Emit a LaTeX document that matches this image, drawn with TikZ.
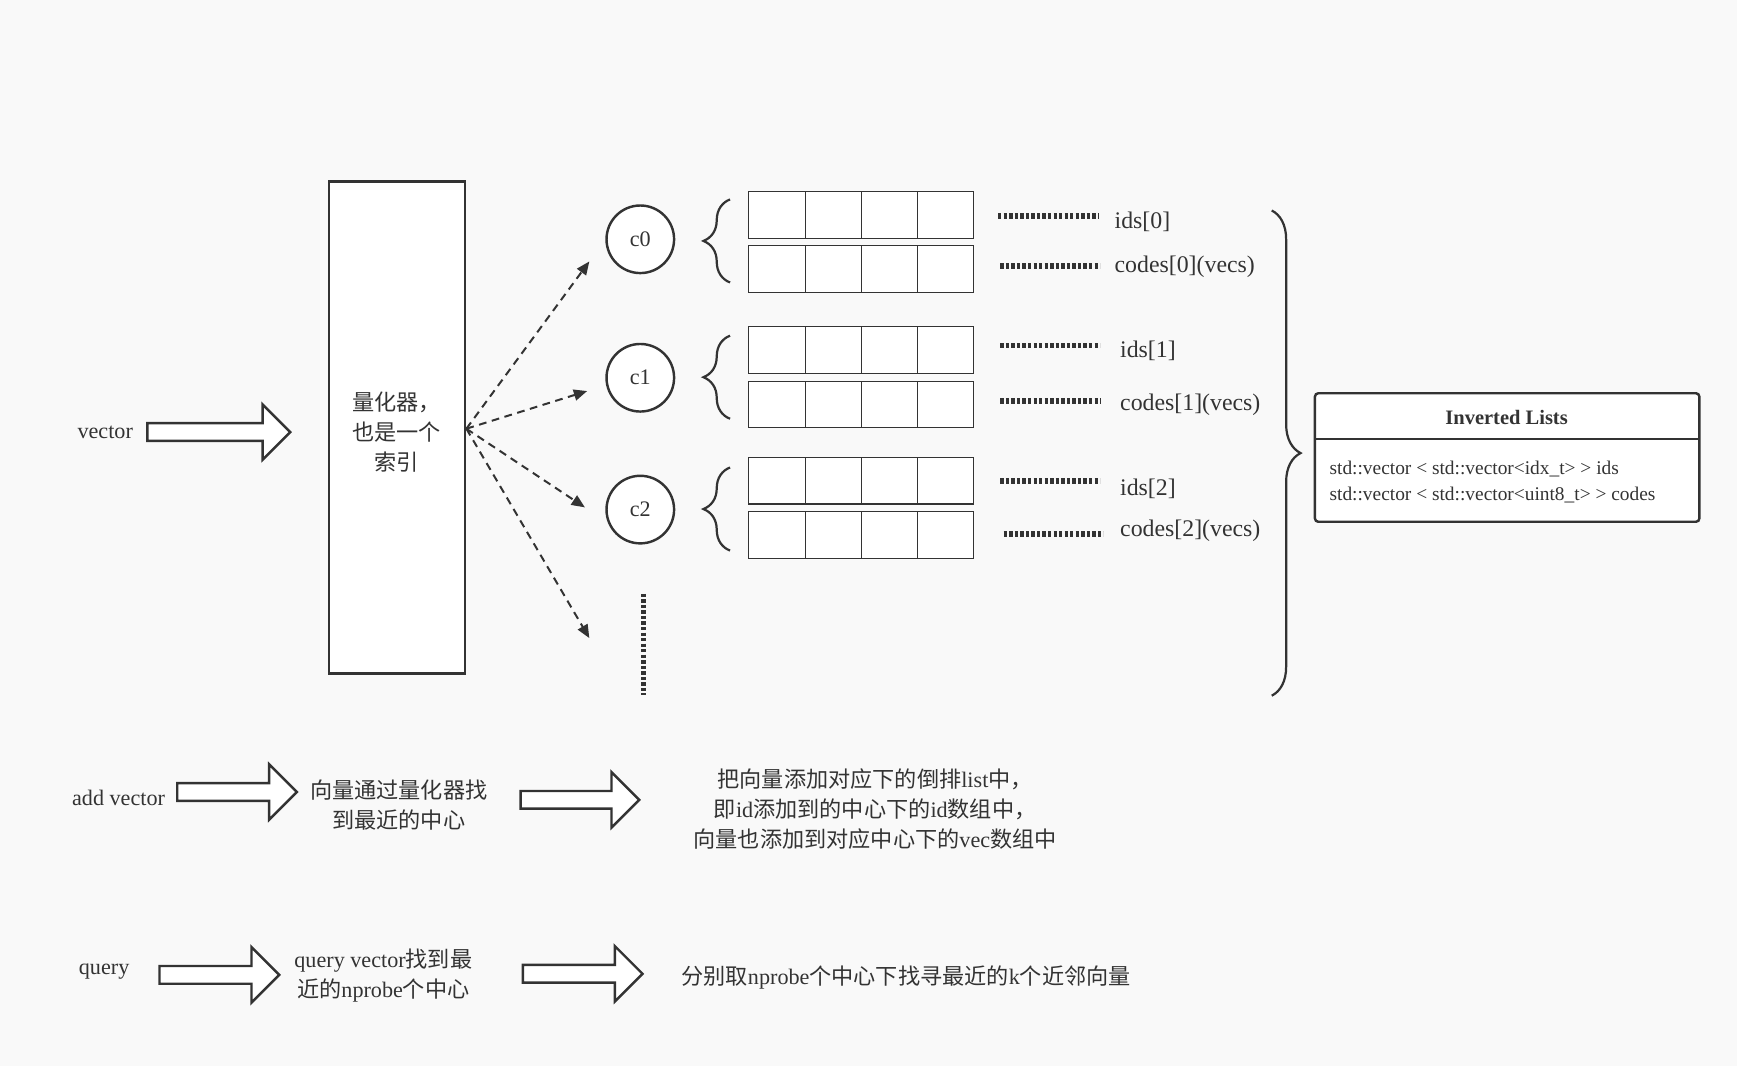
\documentclass[tikz,border=0pt]{standalone}
\usepackage{fontspec}
\setmainfont{Liberation Serif}
\newfontfamily\cjk{Noto Sans CJK SC}
\newcommand{\lat}[1]{{\rmfamily #1}}
\usetikzlibrary{arrows.meta,decorations.pathreplacing}
\definecolor{bg}{HTML}{F9F9F9}
\definecolor{ln}{HTML}{333333}
\tikzset{
 lbl/.style={text=ln,font=\fontsize{20}{24}\selectfont\cjk,inner sep=0pt},
 blbl/.style={lbl,align=center,font=\fontsize{20}{27}\selectfont\cjk},
 cell/.style={draw=ln,line width=1pt,fill=white},
 dots/.style={draw=ln,line width=5pt,dash pattern=on 3pt off 2pt},
 dsh/.style={draw=ln,line width=1.8pt,dash pattern=on 7pt off 5pt,-{Triangle[length=12pt,width=10pt]}},
 brc/.style={draw=ln,line width=2pt,decorate,decoration={brace,amplitude=24pt}},
 harrowst/.style={draw=ln,line width=2.2pt,fill=white,line join=miter},
}
\newcommand{\harrow}[3]{\draw[harrowst] (#1,#3-8) -- (#2-25,#3-8) -- (#2-25,#3-25) -- (#2,#3) -- (#2-25,#3+25) -- (#2-25,#3+8) -- (#1,#3+8) -- cycle;}
\begin{document}
\begin{tikzpicture}[x=1pt,y=-1pt]
\fill[bg] (0,0) rectangle (1568,962);
\useasboundingbox (0,0) rectangle (1568,962);
% vector input
\node[lbl,font=\fontsize{20}{24}\selectfont] (vec) at (95,390) {vector};
\harrow{133}{262}{390}
% quantizer
\node[draw=ln,line width=2.2pt,fill=white,minimum width=123pt,minimum height=444pt,inner sep=0pt] (q) at (358.5,386) {};
\node[blbl] (qt) at (358,390) {量化器，\\也是一个\\索引};
\coordinate (qs) at (421,387);
\coordinate (e0) at (532,236);
\coordinate (e1) at (530,353);
\coordinate (e2) at (528,458);
\coordinate (e3) at (532,576);
\foreach \e in {e0,e1,e2,e3} \draw[dsh] (qs) -- (\e);
% circles
\foreach \n/\y in {0/216,1/341,2/460}{
 \node[draw=ln,line width=2.2pt,fill=white,circle,minimum size=61pt,inner sep=0pt,font=\fontsize{20}{22}\selectfont,text=ln] (c\n) at (578,\y) {c\n};
}
\coordinate (vd1) at (581,536); \coordinate (vd2) at (581,627);
\draw[dots,line width=4.5pt] (vd1) -- (vd2);
% grids
\foreach \n/\ya/\yb in {0/173/222,1/295/344,2/413/462}{
 \foreach \i in {0,1,2,3}{
  \node[cell,minimum width=50.75pt,minimum height=42pt,inner sep=0pt] (g\n a\i) at (676+25.375+50.75*\i,\ya+21) {};
  \node[cell,minimum width=50.75pt,minimum height=42pt,inner sep=0pt] (g\n b\i) at (676+25.375+50.75*\i,\yb+21) {};
 }
}
% small braces
\foreach \n/\ya/\yb in {0/180/255,1/303/378,2/422/497}{
 \coordinate (bt\n) at (659,\ya); \coordinate (bb\n) at (659,\yb);
 \draw[brc] (bb\n) -- (bt\n);
}
% dotted lines & labels
\coordinate (d0a) at (901,195); \coordinate (d0b) at (992,195);
\coordinate (d1a) at (903,240); \coordinate (d1b) at (993,240);
\coordinate (d2a) at (903,312); \coordinate (d2b) at (993,312);
\coordinate (d3a) at (903,362); \coordinate (d3b) at (994,362);
\coordinate (d4a) at (903,434); \coordinate (d4b) at (993,434);
\coordinate (d5a) at (906,482); \coordinate (d5b) at (996,482);
\foreach \k in {0,...,5} \draw[dots] (d\k a) -- (d\k b);
\tikzset{rl/.style={lbl,anchor=west,font=\fontsize{21.5}{24}\selectfont}}
\node[rl] (l0) at (1006,200) {ids[0]};
\node[rl] (l1) at (1006,241) {codes[0](vecs)};
\node[rl] (l2) at (1011,317) {ids[1]};
\node[rl] (l3) at (1011,365) {codes[1](vecs)};
\node[rl] (l4) at (1011,441) {ids[2]};
\node[rl] (l5) at (1011,479) {codes[2](vecs)};
% big brace
\coordinate (BT) at (1148,190); \coordinate (BB) at (1148,628);
\draw[brc,decoration={brace,amplitude=26pt}] (BT) -- (BB);
% inverted lists
\draw[draw=ln,line width=2.2pt,fill=white,rounded corners=3pt] (1187,355) rectangle (1534,471);
\draw[ln,line width=2pt] (1187,396) -- (1534,396);
\node[lbl,font=\fontsize{18.5}{22}\selectfont\bfseries] (ilt) at (1360,377) {Inverted Lists};
\node[lbl,anchor=west,align=left,font=\fontsize{17.5}{23}\selectfont] (ilb) at (1200,435) {std::vector < std::vector<idx\_t> > ids\\std::vector < std::vector<uint8\_t> > codes};
% add vector
\node[lbl,font=\fontsize{20}{24}\selectfont] (av) at (107,720) {add vector};
\harrow{160}{268}{715}
\node[blbl] (avt) at (360,727) {向量通过量化器找\\到最近的中心};
\harrow{470}{577}{722}
\node[blbl] (avr) at (790,730) {把向量添加对应下的倒排\lat{list}中，\\即\lat{id}添加到的中心下的\lat{id}数组中，\\向量也添加到对应中心下的\lat{vec}数组中};
% query
\node[lbl,font=\fontsize{20}{24}\selectfont] (qq) at (94,877) {query};
\harrow{144}{252}{880}
\node[blbl] (qqt) at (346,881) {\lat{query vector}找到最\\近的\lat{nprobe}个中心};
\harrow{472}{580}{879}
\node[lbl,anchor=west] (qqr) at (615,882) {分别取\lat{nprobe}个中心下找寻最近的\lat{k}个近邻向量};
\end{tikzpicture}
\end{document}
